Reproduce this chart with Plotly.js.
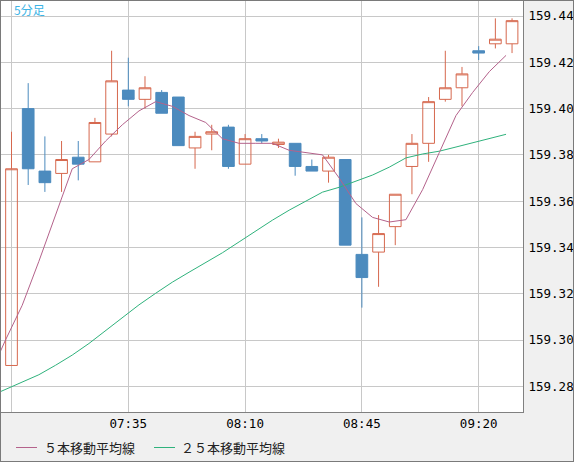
<!DOCTYPE html>
<html>
<head>
<meta charset="utf-8">
<script src="https://cdn.plot.ly/plotly-3.0.1.min.js"></script>
<style>
  html, body { margin: 0; padding: 0; background: #ffffff; }
  #chart { width: 572px; height: 460px; border: 1px solid #7a7a7a; }
</style>
</head>
<body>
<div id="chart"></div>
<script>
// ---- data ----
const day = '2024-01-01';
const times = ['07:00','07:05','07:10','07:15','07:20','07:25','07:30','07:35','07:40','07:45',
               '07:50','07:55','08:00','08:05','08:10','08:15','08:20','08:25','08:30','08:35',
               '08:40','08:45','08:50','08:55','09:00','09:05','09:10','09:15','09:20','09:25','09:30'];
const openP  = [159.289,159.400,159.373,159.372,159.379,159.377,159.389,159.408,159.404,159.407,
                159.405,159.383,159.389,159.392,159.376,159.387,159.3845,159.385,159.375,159.373,
                159.378,159.337,159.338,159.349,159.375,159.385,159.404,159.409,159.425,159.428,159.428];
const highP  = [159.390,159.411,159.388,159.386,159.386,159.396,159.425,159.422,159.414,159.408,
                159.405,159.390,159.393,159.393,159.389,159.389,159.387,159.385,159.378,159.380,
                159.378,159.353,159.354,159.363,159.389,159.405,159.425,159.418,159.427,159.439,159.439];
const lowP   = [159.289,159.367,159.364,159.364,159.369,159.377,159.388,159.401,159.400,159.398,
                159.384,159.374,159.382,159.374,159.376,159.385,159.383,159.371,159.373,159.368,
                159.341,159.314,159.323,159.341,159.363,159.377,159.403,159.401,159.421,159.426,159.424];
const closeP = [159.374,159.374,159.368,159.378,159.376,159.394,159.412,159.404,159.409,159.398,
                159.384,159.388,159.390,159.375,159.387,159.386,159.3855,159.375,159.373,159.379,
                159.341,159.327,159.346,159.363,159.385,159.403,159.409,159.415,159.424,159.430,159.438];
// moving averages: first value belongs to the bar before the window (06:55)
const maPrevTime = '06:55';
const ma5  = [159.284,159.300,159.315,159.334,159.354,159.374,159.378,159.386,159.393,159.399,
              159.403,159.401,159.397,159.394,159.387,159.385,159.385,159.385,159.382,159.381,
              159.380,159.370,159.359,159.353,159.351,159.352,159.365,159.381,159.397,159.407,
              159.416,159.423];
const ma25 = [159.2755,159.2786,159.2816,159.2850,159.2891,159.2935,159.2985,159.3041,159.3099,159.3152,
              159.3202,159.3250,159.3293,159.3334,159.3377,159.3424,159.3471,159.3518,159.3561,159.3601,
              159.3639,159.3660,159.3685,159.3713,159.3747,159.3787,159.3804,159.3816,159.3834,159.3853,
              159.3871,159.3889];
const xTickTimes  = ['07:00','07:35','08:10','08:45','09:20'];
const xTickLabels = ['','07:35','08:10','08:45','09:20'];
const yTicks = [159.28,159.30,159.32,159.34,159.36,159.38,159.40,159.42,159.44];
const periodLabel = '5分足';
const ma5Name  = '５本移動平均線';
const ma25Name = '２５本移動平均線';

// ---- helpers ----
function stamp(hhmm, offsetSec) {
  const [h, m] = hhmm.split(':').map(Number);
  let s = h * 3600 + m * 60 + (offsetSec || 0);
  const hh = Math.floor(s / 3600); s -= hh * 3600;
  const mm = Math.floor(s / 60); s -= mm * 60;
  const p = n => String(Math.round(n)).padStart(2, '0');
  return day + ' ' + p(hh) + ':' + p(mm) + ':' + p(s);
}
const MA_SHIFT = -108; // the MA lines are drawn at the left edge of each candle body
const xBars = times.map(t => stamp(t));
const xMA = [maPrevTime].concat(times).map(t => stamp(t, MA_SHIFT));

const RED = '#d6684e', BLUE = '#4c8bbe', MA5C = '#b4628b', MA25C = '#2fb27c';

const traces = [
  {
    type: 'candlestick', x: xBars, open: openP, high: highP, low: lowP, close: closeP,
    increasing: { line: { color: RED, width: 1 }, fillcolor: 'rgba(0,0,0,0)' },
    decreasing: { line: { color: BLUE, width: 1 }, fillcolor: BLUE },
    whiskerwidth: 0, showlegend: false, hoverinfo: 'skip'
  },
  { type: 'scatter', mode: 'lines', x: xMA, y: ma25, name: ma25Name,
    line: { color: MA25C, width: 1 }, showlegend: false, hoverinfo: 'skip' },
  { type: 'scatter', mode: 'lines', x: xMA, y: ma5, name: ma5Name,
    line: { color: MA5C, width: 1 }, showlegend: false, hoverinfo: 'skip' }
];

// page pixel -> paper helpers (plot area = page x 1..523, y 1..412)
const PX = x => (x - 1) / 522;
const PY = y => (412 - y) / 411;

const tickFont = { family: 'DejaVu Sans Mono, monospace', size: 12.5, color: '#000000' };
const cjk = 'Noto Sans CJK JP, sans-serif';

const layout = {
  width: 572, height: 460,
  margin: { l: 0, r: 50, t: 0, b: 49, pad: 0 },
  paper_bgcolor: '#f0f0f0', plot_bgcolor: '#ffffff',
  showlegend: false,
  boxgap: 0.3, boxgroupgap: 0,
  xaxis: {
    type: 'date',
    range: [day + ' 06:56:51', day + ' 09:33:17'],
    tickmode: 'array', tickvals: xTickTimes.map(t => stamp(t)), ticktext: xTickLabels,
    showgrid: true, gridcolor: '#c8c8c8', gridwidth: 1,
    showline: true, linecolor: '#808080', linewidth: 1,
    ticks: '', tickfont: tickFont, zeroline: false,
    rangeslider: { visible: false }, fixedrange: true
  },
  yaxis: {
    side: 'right',
    range: [159.2689, 159.4465],
    tickmode: 'array', tickvals: yTicks, tickformat: '.2f',
    showgrid: true, gridcolor: '#c8c8c8', gridwidth: 1,
    showline: true, linecolor: '#808080', linewidth: 1,
    ticks: '', tickfont: tickFont, zeroline: false, fixedrange: true,
    ticklabelstandoff: 2
  },
  shapes: [
    { type: 'line', xref: 'paper', yref: 'paper', x0: PX(16), x1: PX(37), y0: PY(447.5), y1: PY(447.5),
      line: { color: MA5C, width: 1 } },
    { type: 'line', xref: 'paper', yref: 'paper', x0: PX(154), x1: PX(175), y0: PY(447.5), y1: PY(447.5),
      line: { color: MA25C, width: 1 } }
  ],
  annotations: [
    { xref: 'paper', yref: 'paper', x: PX(12), y: PY(10), xanchor: 'left', yanchor: 'middle',
      text: periodLabel, showarrow: false, font: { family: cjk, size: 12, color: '#3cb4e6' } },
    { xref: 'paper', yref: 'paper', x: PX(42), y: PY(448), xanchor: 'left', yanchor: 'middle',
      text: ma5Name, showarrow: false, font: { family: cjk, size: 13, color: '#222222' } },
    { xref: 'paper', yref: 'paper', x: PX(179), y: PY(448), xanchor: 'left', yanchor: 'middle',
      text: ma25Name, showarrow: false, font: { family: cjk, size: 13, color: '#222222' } }
  ]
};

Plotly.newPlot('chart', traces, layout, { staticPlot: true, displayModeBar: false });
</script>
</body>
</html>
